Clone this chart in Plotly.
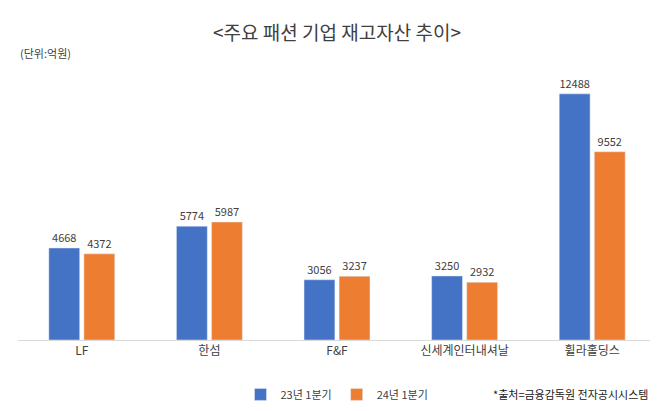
import plotly.graph_objects as go

companies = ["LF", "한섬", "F&F", "신세계인터내셔날", "휠라홀딩스"]
q1_23 = [4668, 5774, 3056, 3250, 12488]
q1_24 = [4372, 5987, 3237, 2932, 9552]

font = "Noto Sans CJK KR"

fig = go.Figure()
fig.add_trace(go.Bar(x=companies, y=q1_23, name="23년 1분기", marker_color="#4472C4",
                     text=q1_23, textposition="outside", textfont=dict(size=11, color="#404040")))
fig.add_trace(go.Bar(x=companies, y=q1_24, name="24년 1분기", marker_color="#ED7D31",
                     text=q1_24, textposition="outside", textfont=dict(size=11, color="#404040")))

fig.update_layout(
    width=658, height=411,
    paper_bgcolor="white", plot_bgcolor="white",
    font=dict(family=font, color="#404040"),
    margin=dict(l=10, r=10, t=60, b=71),
    barmode="group", bargap=0.45, bargroupgap=0.12,
    title=dict(text="<주요 패션 기업 재고자산 추이>", x=0.5, y=0.955, xanchor="center",
               font=dict(size=19, color="#404040")),
    legend=dict(orientation="h", x=0.5, y=-0.2, xanchor="center", yanchor="middle",
                font=dict(size=11)),
)
fig.add_annotation(text="(단위:억원)", xref="paper", yref="paper", x=0.0, y=1.055,
                   xanchor="left", yanchor="middle", showarrow=False,
                   font=dict(size=11, color="#404040"))
fig.add_annotation(text="*출처=금융감독원 전자공시시스템", xref="paper", yref="paper", x=0.99, y=-0.2,
                   xanchor="right", yanchor="middle", showarrow=False,
                   font=dict(size=11, color="#202020"))
fig.update_xaxes(showline=True, linecolor="#D9D9D9", tickfont=dict(size=12), ticks="")
fig.update_yaxes(visible=False, range=[0, 13800], showgrid=False)

fig.write_html("out.html")
